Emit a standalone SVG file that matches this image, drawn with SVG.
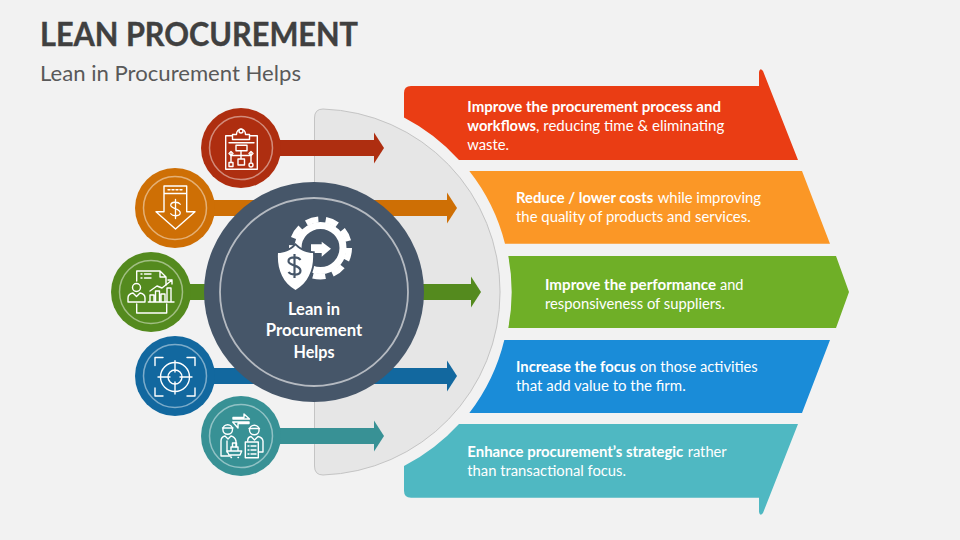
<svg xmlns="http://www.w3.org/2000/svg" width="960" height="540" viewBox="0 0 960 540">
<style>
text{font-family:"Lato","Open Sans","Liberation Sans",sans-serif}
.title{font-size:32px;font-weight:700;fill:#404040;stroke:#404040;stroke-width:.4}
.sub{font-size:21px;fill:#595959}
.b{font-size:14.5px;fill:#fff}
.s{font-weight:700}
.c{font-size:16.5px;font-weight:700;fill:#fff;text-anchor:middle}
.ring{fill:none;stroke:#fff;stroke-opacity:.45;stroke-width:1.5}
.ic{fill:none;stroke:#fff;stroke-width:1.4;stroke-linejoin:round;stroke-linecap:round}
.fl{stroke-width:16;fill:none}
</style>
<defs>
<path id="dollar" d="M5-5C3-8-5-8-5-4-5 0 5-1 5 4 5 8-3 8-5 5M0-10V10"/>
<marker id="hr" markerUnits="userSpaceOnUse" markerWidth="11" markerHeight="32" refX="0" refY="16" orient="auto"><path d="M0 .5L10 16 0 31.5z" fill="#AE2E10"/></marker>
<marker id="ho" markerUnits="userSpaceOnUse" markerWidth="11" markerHeight="32" refX="0" refY="16" orient="auto"><path d="M0 .5L10 16 0 31.5z" fill="#CE6F05"/></marker>
<marker id="hg" markerUnits="userSpaceOnUse" markerWidth="11" markerHeight="32" refX="0" refY="16" orient="auto"><path d="M0 .5L10 16 0 31.5z" fill="#548A1E"/></marker>
<marker id="hb" markerUnits="userSpaceOnUse" markerWidth="11" markerHeight="32" refX="0" refY="16" orient="auto"><path d="M0 .5L10 16 0 31.5z" fill="#12689F"/></marker>
<marker id="ht" markerUnits="userSpaceOnUse" markerWidth="11" markerHeight="32" refX="0" refY="16" orient="auto"><path d="M0 .5L10 16 0 31.5z" fill="#389195"/></marker>
</defs>
<rect width="960" height="540" fill="#F2F2F2"/>
<text class="title" x="40" y="45.7" textLength="318" lengthAdjust="spacingAndGlyphs">LEAN PROCUREMENT</text>
<text class="sub" x="40" y="81" textLength="261" lengthAdjust="spacingAndGlyphs">Lean in Procurement Helps</text>

<path id="half" d="M314.5 118Q314.5 109 323 109A183.100 183.100 0 0 1 323 475Q314.500 475 314.500 466Z" fill="#E6E6E6" stroke="#C4C4C4" stroke-width="1"/>

<g id="connectors">
<line class="fl" x1="241" y1="148" x2="374" y2="148" stroke="#AE2E10" marker-end="url(#hr)"/>
<line class="fl" x1="175" y1="208" x2="447" y2="208" stroke="#CE6F05" marker-end="url(#ho)"/>
<line class="fl" x1="151" y1="292" x2="471" y2="292" stroke="#548A1E" marker-end="url(#hg)"/>
<line class="fl" x1="175" y1="376" x2="447" y2="376" stroke="#12689F" marker-end="url(#hb)"/>
<line class="fl" x1="241" y1="436" x2="374" y2="436" stroke="#389195" marker-end="url(#ht)"/>
</g>

<g id="node-process">
<circle cx="241" cy="148" r="40" fill="#AE2E10"/><circle class="ring" cx="241" cy="148" r="31.500"/>
<g class="ic">
<path d="M232.500 135.700H225.700V169.300H257.300V135.700H249.500M232.500 139.500V134.500H236.500C236.500 127.500 245.500 127.500 245.500 134.500H249.500V139.500Z"/>
<circle cx="241" cy="131" r="2"/>
<path d="M229 142.700H254M236 145.300H247V150.700H236ZM241 150.700V159M231 153V162M251 153V162M231 155.500H251M238 159H244.500V165H238Z"/>
<path d="M231 151.500L233 153.500 231 155.500 229 153.500ZM251 151.500L253 153.500 251 155.500 249 153.500Z"/>
<rect x="229" y="162.500" width="4" height="4"/><circle cx="251" cy="165" r="2"/>
</g>
</g>

<g id="node-costs">
<circle cx="175" cy="208" r="40" fill="#CE6F05"/><circle class="ring" cx="175" cy="208" r="31.500"/>
<g class="ic">
<path d="M164 211.700V186H186.700V211.700H195L175.500 229 156 211.700ZM164 193.500H186.700"/>
<path d="M168 189.800H183" stroke-dasharray="2 2"/>
<use href="#dollar" transform="translate(175.500 209) scale(.95)"/>
</g>
</g>

<g id="node-performance">
<circle cx="151" cy="292" r="40" fill="#548A1E"/><circle class="ring" cx="151" cy="292" r="31.500"/>
<g class="ic">
<path d="M136.700 281V271H160L166 277V285M160 271V277H166M136.700 304V313H166.700V304"/>
<path d="M141 274H142M141 278H142M144.500 274H151M144.500 278H151"/>
<circle cx="136.500" cy="287.500" r="4"/>
<path d="M128 302V298Q128 294 133 293L136.500 296.500 140 293Q145 294 145 298V302Z"/>
<path d="M148.300 302H174M150 302V295H154V302M155.500 302V291H159.500V302M161 302V294H165V302M167 302V288H171V302M150 291L157 286 162 288 172 280M168 280H172V284"/>
</g>
</g>

<g id="node-focus">
<circle cx="175" cy="376" r="40" fill="#12689F"/><circle class="ring" cx="175" cy="376" r="31.500"/>
<g class="ic">
<path d="M155 365.500V357.500H163M187 357.500H195V365.500M155 388V396H163M187 396H195V388"/>
<circle cx="175" cy="377" r="14.500"/><circle cx="175" cy="377" r="7"/>
<path d="M175 360.700V372M175 382V394M158 377H170M180 377H192"/>
</g>
</g>

<g id="node-strategic">
<circle cx="241" cy="436" r="40" fill="#389195"/><circle class="ring" cx="241" cy="436" r="31.500"/>
<g class="ic">
<path d="M233 417.500H244V414L249.500 419H233ZM249 423.500H238V428L232.700 422H249Z"/>
<circle cx="227.700" cy="429.500" r="4.800"/><path d="M222.500 428H233"/>
<path d="M231 456H221V441Q221 437 225 436L228 439 231 436Q235 437 236 441V447M227 441V452"/>
<path d="M227 451H241.700L240 455H229ZM231 457.500H231.500M238 457.500H238.500M231 451V447H238V451M232.500 447V443H236.500V447"/>
<circle cx="254.300" cy="430" r="4.800"/><path d="M249 428.500H259.500"/>
<path d="M247.700 441V440Q248 437 251 436.500L254.500 440 258 436.500Q262.500 437.500 263 441V452H258.300"/>
<path d="M245.300 442H258.300V457.700H245.300ZM248 446H249M251 446H256M248 450H249M251 450H256M248 454H249M251 454H256"/>
</g>
</g>

<g id="node-center">
<circle cx="314" cy="292" r="110" fill="#465669"/>
<circle cx="314" cy="292" r="94" fill="none" stroke="#B5BAC1" stroke-width="1.800"/>
<circle cx="320.500" cy="248" r="22.500" fill="none" stroke="#fff" stroke-width="7"/>
<circle cx="320.500" cy="248" r="28.500" fill="none" stroke="#fff" stroke-width="6" stroke-dasharray="12.500 7.400"/>
<path d="M311 244.300H321.700V241.700L331 248.700 321.700 256.700V253H311Z" fill="#fff"/>
<path d="M295.500 245.500C290 251 284 253 278 253 277 268 282 282 295.500 290 309 282 314 268 313 253 307 253 301 251 295.500 245.500Z" fill="#fff" stroke="#465669" stroke-width="3.500" paint-order="stroke"/>
<use href="#dollar" transform="translate(294.500 266) scale(1.200)" fill="none" stroke="#465669" stroke-width="1.800"/>
<text class="c" x="314" y="315" textLength="52" lengthAdjust="spacingAndGlyphs">Lean in</text>
<text class="c" x="314" y="336" textLength="96.600" lengthAdjust="spacingAndGlyphs">Procurement</text>
<text class="c" x="314" y="357.700" textLength="41" lengthAdjust="spacingAndGlyphs">Helps</text>
</g>

<g id="banner-1">
<path d="M404 93Q404 86 411 86H759V72Q760 67 763 71L798 160H459A194 194 0 0 0 404 117.500Z" fill="#EA3D14"/>
<text class="b" y="111.700"><tspan class="s" x="467.300" textLength="253.700" lengthAdjust="spacingAndGlyphs">Improve the procurement process and</tspan></text>
<text class="b" y="130.700"><tspan class="s" x="467.300" textLength="68.700" lengthAdjust="spacingAndGlyphs">workflows</tspan><tspan x="536" textLength="188.300" lengthAdjust="spacingAndGlyphs">, reducing time &amp; eliminating</tspan></text>
<text class="b" x="467.300" y="150" textLength="41.700" lengthAdjust="spacingAndGlyphs">waste.</text>
</g>

<g id="banner-2">
<path d="M469.300 171H802L830 243.700H505A194 194 0 0 0 469.300 171Z" fill="#FB9726"/>
<text class="b" y="202.700"><tspan class="s" x="516" textLength="137.300" lengthAdjust="spacingAndGlyphs">Reduce / lower costs</tspan><tspan x="657.700" textLength="103.300" lengthAdjust="spacingAndGlyphs">while improving</tspan></text>
<text class="b" x="516" y="221.700" textLength="234.700" lengthAdjust="spacingAndGlyphs">the quality of products and services.</text>
</g>

<g id="banner-3">
<path d="M508.300 256H836L849 292 836 328H508.300A194 194 0 0 0 508.300 256Z" fill="#6FAF27"/>
<text class="b" y="290"><tspan class="s" x="545" textLength="171" lengthAdjust="spacingAndGlyphs">Improve the performance</tspan><tspan x="720" textLength="23.500" lengthAdjust="spacingAndGlyphs">and</tspan></text>
<text class="b" x="545" y="309" textLength="180" lengthAdjust="spacingAndGlyphs">responsiveness of suppliers.</text>
</g>

<g id="banner-4">
<path d="M504.300 340H830L802 413H469.300A194 194 0 0 0 504.300 340Z" fill="#1A8CD8"/>
<text class="b" y="371.700"><tspan class="s" x="516" textLength="119.700" lengthAdjust="spacingAndGlyphs">Increase the focus</tspan><tspan x="640" textLength="117.700" lengthAdjust="spacingAndGlyphs">on those activities</tspan></text>
<text class="b" x="516" y="390.700" textLength="169.700" lengthAdjust="spacingAndGlyphs">that add value to the firm.</text>
</g>

<g id="banner-5">
<path d="M459 424H798L763 513Q760 517 759 512V497.700H411Q404 497.700 404 490.700V466A194 194 0 0 0 459 424Z" fill="#4FB8C2"/>
<text class="b" y="456.700"><tspan class="s" x="467.300" textLength="216" lengthAdjust="spacingAndGlyphs">Enhance procurement’s strategic</tspan><tspan x="687.700" textLength="39" lengthAdjust="spacingAndGlyphs">rather</tspan></text>
<text class="b" x="467.300" y="475.700" textLength="158.700" lengthAdjust="spacingAndGlyphs">than transactional focus.</text>
</g>
</svg>
